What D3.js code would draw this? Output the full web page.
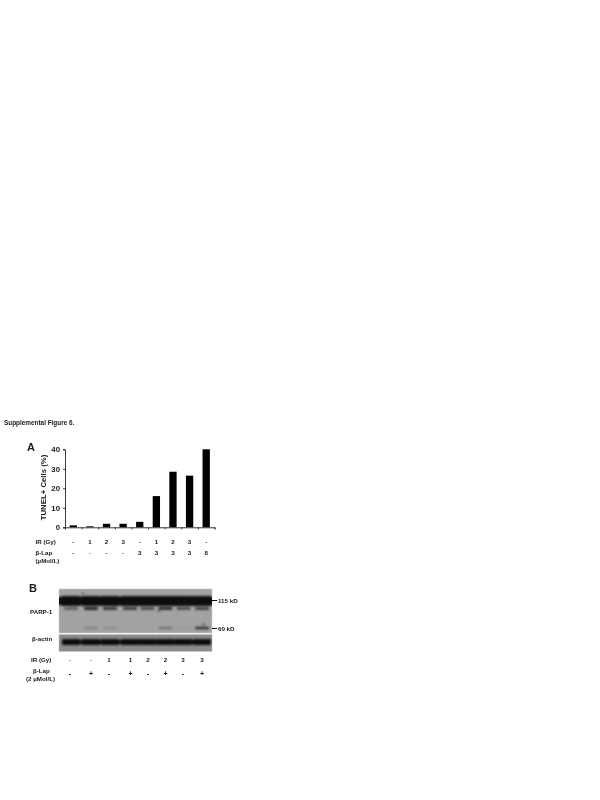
<!DOCTYPE html>
<html>
<head>
<meta charset="utf-8">
<script src="https://cdn.jsdelivr.net/npm/d3@7"></script>
<style>
  html, body { margin: 0; background: #fff; }
  text { font-family: "Liberation Sans", Arial, sans-serif; font-weight: bold; fill: #1a1a1a; }
</style>
</head>
<body>
<div id="chart"></div>
<script>
// panel A values
const tunelValues = [1, 0.5, 1.8, 1.8, 2.8, 16, 28.5, 26.5, 40];
const irDoseA = ['-', '1', '2', '3', '-', '1', '2', '3', '-'];
const lapDoseA = ['-', '-', '-', '-', '3', '3', '3', '3', '8'];
const yTicks = [0, 10, 20, 30, 40];

// panel B lanes, band strengths read by eye (0 = nothing, 1 = black)
const irDoseB = ['-', '-', '1', '1', '2', '2', '3', '3'];
const lapDoseB = ['-', '+', '-', '+', '-', '+', '-', '+'];
const parpBand = [1, 0.98, 0.97, 0.98, 0.97, 0.97, 1, 1];
const parpLower = [0.5, 0.95, 0.8, 0.75, 0.65, 0.9, 0.65, 0.7];
const cleavedBand = [0, 0.2, 0.12, 0, 0, 0.3, 0.05, 0.7];
const actinBand = [0.98, 1, 0.97, 0.97, 0.98, 0.97, 1, 0.97];

// specks on the PARP-1 membrane: lane position and height in the panel (0 top, 1 bottom)
const speckLane = [0.8, 4.75, 7.1];
const speckRow = [0.1, 0.5, 0.8];

const w = 600, h = 800;

const svg = d3.select('#chart')
    .append('svg')
    .attr('width', w)
    .attr('height', h)
    .style('display', 'block');

const defs = svg.append('defs');
defs.append('filter').attr('id', 'soft')
    .attr('filterUnits', 'userSpaceOnUse')
    .attr('x', 0).attr('y', 0).attr('width', w).attr('height', h)
    .append('feGaussianBlur').attr('stdDeviation', 0.4);
defs.append('filter').attr('id', 'band')
    .attr('filterUnits', 'userSpaceOnUse')
    .attr('x', 0).attr('y', 0).attr('width', w).attr('height', h)
    .append('feGaussianBlur').attr('stdDeviation', 1);
defs.append('clipPath').attr('id', 'parpClip')
    .append('rect').attr('x', 59).attr('y', 589).attr('width', 153).attr('height', 44);
defs.append('clipPath').attr('id', 'actinClip')
    .append('rect').attr('x', 59).attr('y', 634.5).attr('width', 153).attr('height', 17);

const page = svg.append('g').attr('filter', 'url(#soft)');

function label(x, y, txt, size, anchor) {
    return page.append('text')
        .attr('x', x)
        .attr('y', y)
        .attr('font-size', size || 6.5)
        .attr('text-anchor', anchor || 'start')
        .text(txt);
}

label(4, 425, 'Supplemental Figure 6.', 6.4);

// ---- panel A ----
label(27, 451, 'A', 11);

const x = d3.scaleBand()
    .domain(d3.range(tunelValues.length))
    .range([65, 214.5])
    .paddingInner(0.56)
    .paddingOuter(0.28);

const y = d3.scaleLinear()
    .domain([0, 40])
    .range([527.3, 449.3]);

page.selectAll('rect.bar')
    .data(tunelValues)
    .enter()
    .append('rect')
    .attr('class', 'bar')
    .attr('x', (d, i) => x(i))
    .attr('y', d => y(d))
    .attr('width', x.bandwidth())
    .attr('height', d => y(0) - y(d))
    .attr('fill', '#000');

const yAxis = page.append('g')
    .attr('transform', 'translate(65,0)')
    .call(d3.axisLeft(y).tickValues(yTicks).tickSize(2).tickPadding(3));
yAxis.selectAll('text').attr('font-size', 7.8).style('font-family', '"Liberation Sans"').style('font-weight', 'bold');
yAxis.selectAll('line, path').attr('stroke', '#222').attr('stroke-width', 0.9);

const xAxis = page.append('g')
    .attr('transform', 'translate(0,527.3)')
    .call(d3.axisBottom(d3.scaleLinear().domain([0, 9]).range([65, 214.5])).ticks(9).tickSize(2).tickFormat(''));
xAxis.selectAll('line, path').attr('stroke', '#222').attr('stroke-width', 0.9);

label(46, 487.5, 'TUNEL+ Cells (%)', 7.8, 'middle')
    .attr('transform', 'rotate(-90 46 487.5)');

label(35.5, 543.5, 'IR (Gy)', 6.2);
label(35.5, 554.5, '\u03b2-Lap', 6.2);
label(35.5, 562.5, '(\u00b5Mol/L)', 6.2);

irDoseA.forEach((d, i) => label(x(i) + x.bandwidth() / 2, 543.5, d, 6.2, 'middle'));
lapDoseA.forEach((d, i) => label(x(i) + x.bandwidth() / 2, 554.5, d, 6.2, 'middle'));

// ---- panel B ----
label(29, 592, 'B', 11);

// lanes on the gel are not evenly spaced
const lane = d3.scaleLinear()
    .domain(d3.range(irDoseB.length))
    .range([71, 91, 110, 130, 147.5, 165.5, 183.5, 202]);
const laneW = 15;
const row = d3.scaleLinear().domain([0, 1]).range([589, 633]);
const shade = d3.scaleLinear().domain([0, 1]).range(['#a2a2a2', '#080808']);

page.append('rect').attr('x', 59).attr('y', 589).attr('width', 153).attr('height', 44)
    .attr('fill', '#a2a2a2').attr('stroke', '#cfcfcf').attr('stroke-width', 0.6);
page.append('rect').attr('x', 59).attr('y', 634.5).attr('width', 153).attr('height', 17)
    .attr('fill', '#8b8b8b').attr('stroke', '#c4c4c4').attr('stroke-width', 0.6);

const parpG = page.append('g').attr('clip-path', 'url(#parpClip)').append('g').attr('filter', 'url(#band)');
const actinG = page.append('g').attr('clip-path', 'url(#actinClip)').append('g').attr('filter', 'url(#band)');

function bands(g, values, cy, thick, width) {
    g.selectAll(null)
        .data(values)
        .enter()
        .append('rect')
        .attr('x', (d, i) => lane(i) - width / 2)
        .attr('y', cy - thick / 2)
        .attr('width', width)
        .attr('height', thick)
        .attr('rx', 1)
        .attr('fill', d => shade(d))
        .attr('fill-opacity', d => d === 0 ? 0 : 1);
}

// lower band sits under the main one so draw it first
bands(parpG, parpLower, 608.5, 2.6, 14);
// running smear behind the main PARP band
parpG.append('rect').attr('x', 55).attr('y', 597).attr('width', 160).attr('height', 8).attr('fill', '#0a0a0a');
bands(parpG, parpBand, 601, 10, laneW + 4);
bands(parpG, cleavedBand, 628, 2.4, 14);

parpG.selectAll(null)
    .data(speckLane)
    .enter()
    .append('circle')
    .attr('cx', d => lane(Math.floor(d)) + (d % 1) * laneW)
    .attr('cy', (d, i) => row(speckRow[i]))
    .attr('r', 1)
    .attr('fill', '#333');

actinG.append('rect').attr('x', 65).attr('y', 640).attr('width', 146).attr('height', 4).attr('fill', '#0e0e0e');
bands(actinG, actinBand, 642, 6, laneW + 3);

page.append('line').attr('x1', 212).attr('x2', 217).attr('y1', 600.5).attr('y2', 600.5).attr('stroke', '#111').attr('stroke-width', 1);
page.append('line').attr('x1', 212).attr('x2', 217).attr('y1', 628.5).attr('y2', 628.5).attr('stroke', '#111').attr('stroke-width', 1);
label(218, 602.5, '115 kD', 6.2);
label(218, 630.5, '60 kD', 6.2);

label(30, 614, 'PARP-1', 6.2);
label(32, 641, '\u03b2-actin', 6.2);

label(31, 662, 'IR (Gy)', 6.2);
label(33, 673, '\u03b2-Lap', 6.2);
label(26, 681, '(2 \u00b5Mol/L)', 6.2);

// tick labels in B follow the lanes
const labelX = d3.scaleLinear()
    .domain(d3.range(irDoseB.length))
    .range([70, 91, 109, 130.5, 148, 165.5, 183, 202]);
irDoseB.forEach((d, i) => label(labelX(i), 662, d, 6.2, 'middle'));
lapDoseB.forEach((d, i) => label(labelX(i), 675.5, d, 7, 'middle'));
</script>
</body>
</html>
